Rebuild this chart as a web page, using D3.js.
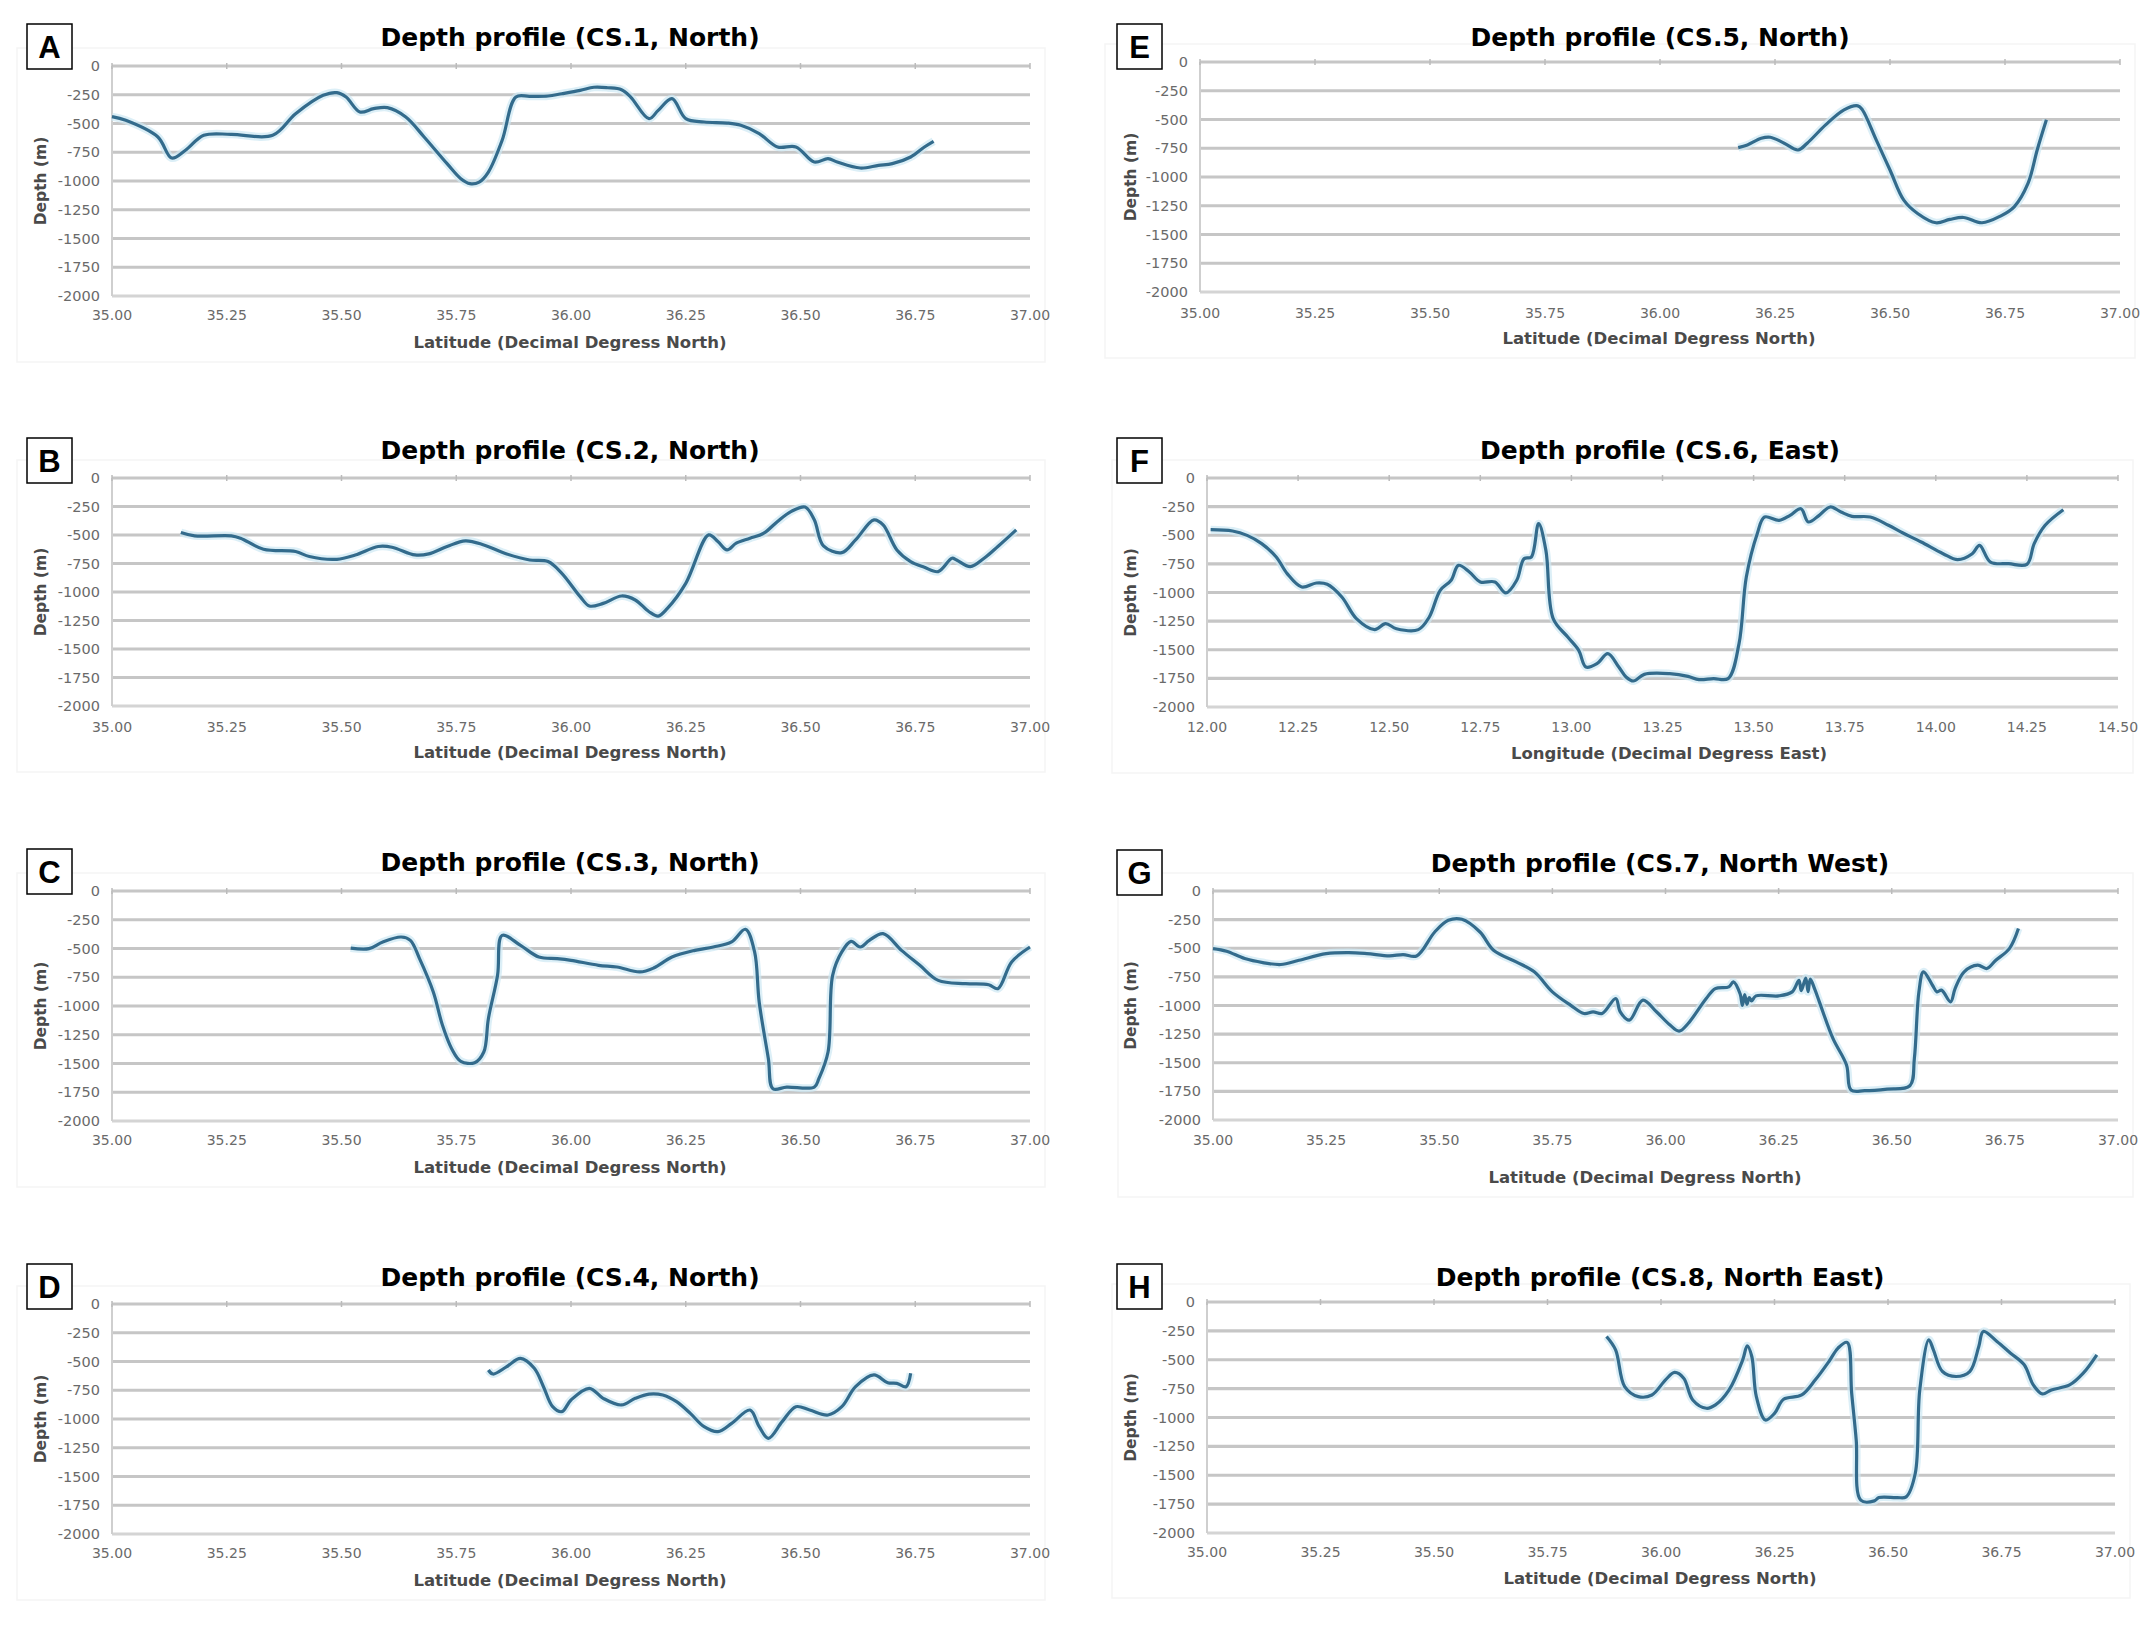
<!DOCTYPE html>
<html>
<head>
<meta charset="utf-8">
<script src="https://cdn.jsdelivr.net/npm/d3@7"></script>
<style>
  body { margin: 0; background: #fff; }
  text { font-family: "DejaVu Sans", Verdana, sans-serif; }
</style>
</head>
<body>
<div id="fig"></div>
<script>
// depth ticks and axis labels shared by all panels
var depthTicks = [0, -250, -500, -750, -1000, -1250, -1500, -1750, -2000];
var latTicks = [35.00, 35.25, 35.50, 35.75, 36.00, 36.25, 36.50, 36.75, 37.00];
var lonTicks = [12.00, 12.25, 12.50, 12.75, 13.00, 13.25, 13.50, 13.75, 14.00, 14.25, 14.50];

var panelLetters = ["A", "B", "C", "D", "E", "F", "G", "H"];
var panelTitles = ["Depth profile (CS.1, North)", "Depth profile (CS.2, North)",
  "Depth profile (CS.3, North)", "Depth profile (CS.4, North)",
  "Depth profile (CS.5, North)", "Depth profile (CS.6, East)",
  "Depth profile (CS.7, North West)", "Depth profile (CS.8, North East)"];
var latTitle = "Latitude (Decimal Degress North)";
var lonTitle = "Longitude (Decimal Degress East)";
var yTitle = "Depth (m)";

// CS.1
var xA = [35.00, 35.03, 35.10, 35.13, 35.16, 35.20, 35.26, 35.35, 35.40, 35.46, 35.49, 35.51, 35.54, 35.57, 35.60, 35.64, 35.68, 35.73, 35.76, 35.78, 35.80, 35.82, 35.85, 35.88, 35.91, 35.95, 35.98, 36.02, 36.05, 36.08, 36.11, 36.13, 36.17, 36.19, 36.22, 36.25, 36.29, 36.34, 36.37, 36.41, 36.45, 36.49, 36.53, 36.56, 36.58, 36.63, 36.67, 36.70, 36.74, 36.77, 36.79];
var yA = [-440, -472, -617, -800, -733, -603, -594, -603, -415, -255, -232, -270, -400, -371, -362, -443, -617, -849, -980, -1023, -1009, -922, -646, -270, -264, -261, -241, -212, -185, -189, -206, -270, -458, -386, -284, -458, -487, -496, -516, -588, -704, -704, -835, -806, -835, -887, -864, -849, -791, -704, -655];
// CS.2
var xB = [35.15, 35.18, 35.26, 35.28, 35.33, 35.40, 35.43, 35.49, 35.53, 35.58, 35.61, 35.66, 35.69, 35.73, 35.77, 35.81, 35.86, 35.91, 35.95, 35.98, 36.02, 36.04, 36.07, 36.11, 36.14, 36.17, 36.19, 36.21, 36.25, 36.30, 36.32, 36.34, 36.36, 36.39, 36.42, 36.45, 36.48, 36.51, 36.53, 36.55, 36.59, 36.62, 36.66, 36.68, 36.71, 36.74, 36.77, 36.80, 36.83, 36.84, 36.87, 36.90, 36.93, 36.97];
var yB = [-478, -507, -507, -528, -625, -645, -689, -713, -675, -601, -607, -675, -666, -601, -551, -587, -666, -719, -733, -836, -1041, -1123, -1100, -1035, -1070, -1173, -1211, -1144, -924, -499, -557, -631, -572, -528, -484, -381, -293, -255, -367, -595, -654, -543, -367, -411, -631, -733, -783, -821, -704, -719, -777, -704, -601, -455];
// CS.3
var xC = [35.52, 35.56, 35.59, 35.63, 35.65, 35.67, 35.70, 35.72, 35.74, 35.76, 35.79, 35.81, 35.82, 35.84, 35.85, 35.89, 35.93, 35.97, 36.00, 36.06, 36.10, 36.15, 36.18, 36.22, 36.27, 36.31, 36.35, 36.38, 36.40, 36.41, 36.43, 36.44, 36.47, 36.53, 36.54, 36.56, 36.57, 36.59, 36.61, 36.63, 36.65, 36.68, 36.72, 36.76, 36.80, 36.86, 36.91, 36.93, 36.96, 37.00];
var yC = [-496, -501, -443, -400, -429, -588, -878, -1168, -1371, -1481, -1493, -1400, -1110, -733, -386, -473, -574, -588, -603, -646, -661, -704, -670, -574, -516, -487, -443, -333, -530, -965, -1458, -1719, -1705, -1705, -1632, -1400, -733, -530, -438, -487, -429, -371, -516, -646, -777, -806, -815, -849, -617, -487];
// CS.4
var xD = [35.82, 35.83, 35.86, 35.89, 35.92, 35.94, 35.96, 35.98, 36.00, 36.04, 36.07, 36.11, 36.14, 36.17, 36.20, 36.23, 36.26, 36.29, 36.32, 36.35, 36.39, 36.41, 36.43, 36.46, 36.49, 36.52, 36.56, 36.59, 36.62, 36.66, 36.69, 36.71, 36.73, 36.74];
var yD = [-574, -609, -545, -473, -559, -719, -893, -936, -835, -733, -820, -878, -820, -783, -791, -849, -951, -1067, -1110, -1038, -922, -1067, -1168, -1023, -893, -922, -965, -893, -719, -617, -684, -690, -719, -603];
// CS.5
var xE = [36.17, 36.19, 36.22, 36.24, 36.27, 36.30, 36.32, 36.36, 36.40, 36.43, 36.44, 36.47, 36.50, 36.53, 36.56, 36.60, 36.63, 36.66, 36.70, 36.74, 36.77, 36.80, 36.82, 36.84];
var yE = [-745, -721, -663, -654, -706, -765, -706, -547, -416, -381, -416, -677, -939, -1201, -1317, -1398, -1369, -1352, -1398, -1340, -1259, -1056, -765, -503];
// CS.6
var xF = [12.01, 12.07, 12.11, 12.15, 12.19, 12.22, 12.26, 12.30, 12.33, 12.37, 12.41, 12.46, 12.49, 12.52, 12.58, 12.61, 12.64, 12.67, 12.69, 12.72, 12.75, 12.79, 12.82, 12.85, 12.87, 12.89, 12.91, 12.93, 12.95, 12.99, 13.02, 13.04, 13.07, 13.10, 13.13, 13.15, 13.17, 13.20, 13.27, 13.32, 13.35, 13.39, 13.43, 13.46, 13.48, 13.51, 13.53, 13.57, 13.60, 13.63, 13.65, 13.68, 13.71, 13.74, 13.77, 13.82, 13.87, 13.91, 13.96, 14.02, 14.06, 14.10, 14.12, 14.15, 14.20, 14.25, 14.27, 14.30, 14.35];
var yF = [-451, -463, -501, -573, -690, -835, -952, -917, -928, -1039, -1228, -1324, -1272, -1316, -1324, -1214, -981, -893, -763, -821, -908, -908, -1004, -893, -705, -690, -399, -632, -1228, -1389, -1505, -1651, -1621, -1534, -1651, -1738, -1773, -1715, -1709, -1732, -1761, -1752, -1752, -1447, -865, -486, -341, -370, -326, -268, -384, -326, -253, -297, -335, -341, -413, -480, -559, -661, -713, -661, -588, -734, -748, -754, -573, -413, -277];
// CS.7
var xG = [35.00, 35.03, 35.07, 35.11, 35.15, 35.19, 35.25, 35.30, 35.34, 35.39, 35.42, 35.45, 35.49, 35.52, 35.55, 35.59, 35.62, 35.67, 35.71, 35.75, 35.79, 35.82, 35.84, 35.86, 35.89, 35.90, 35.92, 35.95, 35.98, 36.01, 36.03, 36.05, 36.09, 36.11, 36.14, 36.15, 36.165, 36.17, 36.175, 36.18, 36.185, 36.19, 36.20, 36.25, 36.28, 36.295, 36.30, 36.31, 36.315, 36.32, 36.33, 36.34, 36.37, 36.40, 36.41, 36.44, 36.49, 36.54, 36.55, 36.56, 36.57, 36.59, 36.60, 36.61, 36.63, 36.64, 36.66, 36.69, 36.71, 36.73, 36.76, 36.78];
var yG = [-503, -526, -590, -625, -642, -605, -547, -538, -547, -567, -555, -567, -358, -256, -247, -358, -517, -619, -706, -881, -997, -1070, -1055, -1070, -939, -1055, -1128, -953, -1055, -1171, -1224, -1157, -939, -852, -837, -794, -900, -1000, -905, -990, -930, -960, -916, -916, -881, -780, -870, -760, -880, -770, -860, -968, -1288, -1520, -1738, -1744, -1730, -1701, -1462, -881, -706, -823, -881, -866, -968, -852, -706, -648, -677, -605, -503, -328];
// CS.8
var xH = [35.88, 35.90, 35.92, 35.95, 35.98, 36.01, 36.03, 36.05, 36.07, 36.10, 36.12, 36.15, 36.18, 36.19, 36.20, 36.21, 36.23, 36.25, 36.27, 36.31, 36.34, 36.37, 36.39, 36.41, 36.42, 36.43, 36.44, 36.47, 36.48, 36.52, 36.54, 36.56, 36.57, 36.59, 36.60, 36.62, 36.65, 36.68, 36.70, 36.71, 36.74, 36.77, 36.80, 36.82, 36.84, 36.86, 36.90, 36.93, 36.96];
var yH = [-298, -414, -732, -819, -805, -674, -610, -660, -848, -920, -891, -761, -501, -379, -472, -819, -1022, -964, -842, -805, -674, -515, -399, -350, -790, -1195, -1716, -1722, -1693, -1693, -1687, -1485, -761, -327, -414, -602, -645, -602, -385, -255, -341, -443, -544, -718, -796, -761, -718, -616, -457];

var seriesX = [xA, xB, xC, xD, xE, xF, xG, xH];
var seriesY = [yA, yB, yC, yD, yE, yF, yG, yH];

// layout of each panel (pixels)
var layout = [
  {box: [27, 24], title: [570, 37], px: [112, 1030], py: [66, 296], lab: 315, xt: [570, 342], yt: 41},
  {box: [27, 438], title: [570, 450], px: [112, 1030], py: [478, 706], lab: 727, xt: [570, 752], yt: 41},
  {box: [27, 849], title: [570, 862], px: [112, 1030], py: [891, 1121], lab: 1140, xt: [570, 1167], yt: 41},
  {box: [27, 1264], title: [570, 1277], px: [112, 1030], py: [1304, 1534], lab: 1553, xt: [570, 1580], yt: 41},
  {box: [1117, 24], title: [1660, 37], px: [1200, 2120], py: [62, 292], lab: 313, xt: [1659, 338], yt: 1131},
  {box: [1117, 438], title: [1660, 450], px: [1207, 2118], py: [478, 707], lab: 727, xt: [1669, 753], yt: 1131},
  {box: [1117, 850], title: [1660, 863], px: [1213, 2118], py: [891, 1120], lab: 1140, xt: [1645, 1177], yt: 1131},
  {box: [1117, 1264], title: [1660, 1277], px: [1207, 2115], py: [1302, 1533], lab: 1552, xt: [1660, 1578], yt: 1131}
];

var W = 2141, H = 1646;
var svg = d3.select("#fig").append("svg")
  .attr("width", W).attr("height", H);

function drawPanel(i) {
  var L = layout[i];
  var isLon = (i === 5);
  var ticks = isLon ? lonTicks : latTicks;
  var x = d3.scaleLinear().domain([ticks[0], ticks[ticks.length - 1]]).range(L.px);
  var y = d3.scaleLinear().domain([0, -2000]).range(L.py);
  var g = svg.append("g");

  // faint chart area border
  g.append("rect")
    .attr("x", L.px[0] - 95).attr("y", L.py[0] - 18)
    .attr("width", L.px[1] - L.px[0] + 110).attr("height", L.xt[1] - L.py[0] + 38)
    .style("fill", "none").style("stroke", "#f5f5f5").style("stroke-width", 1.5);

  // horizontal gridlines
  g.selectAll(".grid").data(depthTicks).enter().append("line")
    .attr("x1", L.px[0]).attr("x2", L.px[1])
    .attr("y1", function(d) { return y(d); }).attr("y2", function(d) { return y(d); })
    .style("stroke", function(d) { return d === -2000 ? "#d4d4d4" : "#c6c6c6"; })
    .style("stroke-width", 3.2);

  // vertical axis line
  g.append("line")
    .attr("x1", L.px[0]).attr("x2", L.px[0])
    .attr("y1", L.py[0]).attr("y2", L.py[1])
    .style("stroke", "#cfcfcf").style("stroke-width", 2);

  // little tick marks on the 0 line
  g.selectAll(".tk").data(ticks).enter().append("line")
    .attr("x1", function(d) { return x(d); }).attr("x2", function(d) { return x(d); })
    .attr("y1", L.py[0] - 3).attr("y2", L.py[0] + 3)
    .style("stroke", "#bbb").style("stroke-width", 1.5);

  // y tick labels (plain hyphen like the original)
  g.selectAll(".yl").data(depthTicks).enter().append("text")
    .attr("x", L.px[0] - 12).attr("y", function(d) { return y(d); })
    .attr("dy", "0.35em").attr("text-anchor", "end")
    .style("font-size", "14.5px").style("fill", "#6a6a6a")
    .text(function(d) { return String(d); });

  // x tick labels
  g.selectAll(".xl").data(ticks).enter().append("text")
    .attr("x", function(d) { return x(d); }).attr("y", L.lab)
    .attr("dy", "0.35em").attr("text-anchor", "middle")
    .style("font-size", "14px").style("fill", "#6a6a6a")
    .text(function(d) { return d.toFixed(2); });

  // axis titles
  g.append("text")
    .attr("x", L.xt[0]).attr("y", L.xt[1]).attr("dy", "0.35em")
    .attr("text-anchor", "middle")
    .style("font-size", "16.5px").style("font-weight", "bold").style("fill", "#4a4a4a")
    .text(isLon ? lonTitle : latTitle);
  g.append("text")
    .attr("transform", "translate(" + L.yt + "," + ((L.py[0] + L.py[1]) / 2) + ") rotate(-90)")
    .attr("dy", "0.35em").attr("text-anchor", "middle")
    .style("font-size", "15.5px").style("font-weight", "bold").style("fill", "#4a4a4a")
    .text(yTitle);

  // panel title
  g.append("text")
    .attr("x", L.title[0]).attr("y", L.title[1]).attr("dy", "0.35em")
    .attr("text-anchor", "middle")
    .style("font-size", "25px").style("font-weight", "bold").style("fill", "#000")
    .text(panelTitles[i]);

  // letter box
  g.append("rect")
    .attr("x", L.box[0]).attr("y", L.box[1]).attr("width", 45).attr("height", 45)
    .style("fill", "#fff").style("stroke", "#000").style("stroke-width", 1.5);
  g.append("text")
    .attr("x", L.box[0] + 22.5).attr("y", L.box[1] + 23).attr("dy", "0.36em")
    .attr("text-anchor", "middle")
    .style("font-family", "'Liberation Sans', Arial, sans-serif")
    .style("font-size", "31px").style("font-weight", "bold").style("fill", "#000")
    .text(panelLetters[i]);

  // depth profile line
  var pts = seriesX[i].map(function(v, k) { return [v, seriesY[i][k]]; });
  var line = d3.line()
    .x(function(d) { return x(d[0]); })
    .y(function(d) { return y(d[1]); })
    .curve(d3.curveCatmullRom.alpha(0.5));
  g.append("path").datum(pts).attr("d", line)
    .style("fill", "none").style("stroke", "#cde8f3").style("stroke-width", 8)
    .style("stroke-linejoin", "round").style("opacity", 0.7);
  g.append("path").datum(pts).attr("d", line)
    .style("fill", "none").style("stroke", "#336b8c").style("stroke-width", 3.2)
    .style("stroke-linejoin", "round");
}

for (var i = 0; i < 8; i++) drawPanel(i);
</script>
</body>
</html>
